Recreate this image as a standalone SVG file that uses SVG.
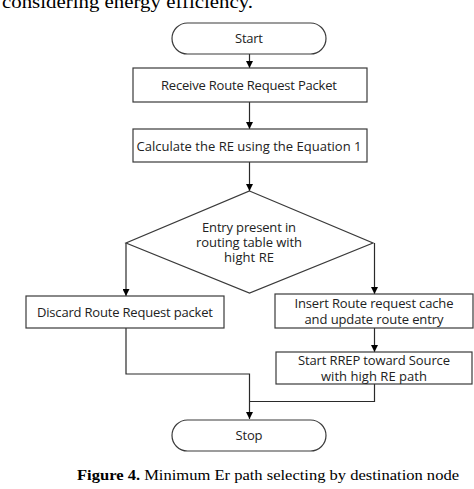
<svg xmlns="http://www.w3.org/2000/svg" width="474" height="489" viewBox="0 0 474 489">
<style>
.shape{fill:#fff;stroke:#3a3a3a;stroke-width:1.2}
.lbl{font-family:"Open Sans","Noto Sans",sans-serif;font-size:13px;fill:#222;text-anchor:middle}
.conn{fill:none;stroke:#2a2a2a;stroke-width:1.2}
.serif{font-family:"Liberation Serif","Times New Roman",serif;fill:#000}
</style>
<defs>
<marker id="arr" viewBox="0 0 8 8" refX="8" refY="4" markerWidth="7" markerHeight="7" markerUnits="userSpaceOnUse" orient="auto">
<path d="M0,0 L8,4 L0,8 z" fill="#000"/>
</marker>
</defs>
<rect width="474" height="489" fill="#fff"/>
<text class="serif" x="2" y="8" font-size="19" textLength="251" lengthAdjust="spacingAndGlyphs">considering energy efficiency.</text>

<g id="connectors">
<line class="conn" x1="249.5" y1="54" x2="249.5" y2="68" marker-end="url(#arr)"/>
<line class="conn" x1="249.5" y1="102" x2="249.5" y2="129" marker-end="url(#arr)"/>
<line class="conn" x1="249.5" y1="162" x2="249.5" y2="191" marker-end="url(#arr)"/>
<polyline class="conn" points="126,243 126,296" marker-end="url(#arr)"/>
<polyline class="conn" points="374.5,243 374.5,294" marker-end="url(#arr)"/>
<line class="conn" x1="374.5" y1="328" x2="374.5" y2="352" marker-end="url(#arr)"/>
<polyline class="conn" points="126,328 126,374 249.5,374 249.5,419" marker-end="url(#arr)"/>
<polyline class="conn" points="374.5,384 374.5,401.5 249.5,401.5"/>
</g>

<g id="start">
<rect class="shape" x="172" y="23" width="154" height="31" rx="15.5" ry="15.5"/>
<text class="lbl" x="249" y="43" textLength="28">Start</text>
</g>
<g id="receive">
<rect class="shape" x="133" y="68" width="234" height="34"/>
<text class="lbl" x="249" y="90" textLength="176">Receive Route Request Packet</text>
</g>
<g id="calculate">
<rect class="shape" x="133" y="129" width="234" height="33"/>
<text class="lbl" x="249" y="150.5" textLength="225">Calculate the RE using the Equation 1</text>
</g>
<g id="decision">
<polygon class="shape" points="249.5,191 373,243 249.5,293 126,243"/>
<text class="lbl" x="249" y="231.5" textLength="94">Entry present in</text>
<text class="lbl" x="249" y="247" textLength="106">routing table with</text>
<text class="lbl" x="249" y="262.3" textLength="50">hight RE</text>
</g>
<g id="discard">
<rect class="shape" x="26" y="296" width="198" height="32"/>
<text class="lbl" x="125" y="316.5" textLength="176">Discard Route Request packet</text>
</g>
<g id="insert">
<rect class="shape" x="275" y="294" width="198" height="34"/>
<text class="lbl" x="374" y="307.5" textLength="159">Insert Route request cache</text>
<text class="lbl" x="374" y="324" textLength="139">and update route entry</text>
</g>
<g id="rrep">
<rect class="shape" x="276" y="352" width="196" height="32"/>
<text class="lbl" x="374" y="364.5" textLength="152">Start RREP toward Source</text>
<text class="lbl" x="374" y="380.5" textLength="106">with high RE path</text>
</g>
<g id="stop">
<rect class="shape" x="172" y="420" width="154" height="31" rx="15.5" ry="15.5"/>
<text class="lbl" x="249" y="440" textLength="27">Stop</text>
</g>

<text class="serif" x="77" y="480" font-size="15.5" textLength="382" lengthAdjust="spacingAndGlyphs"><tspan font-weight="bold">Figure 4.</tspan> Minimum Er path selecting by destination node</text>
</svg>
